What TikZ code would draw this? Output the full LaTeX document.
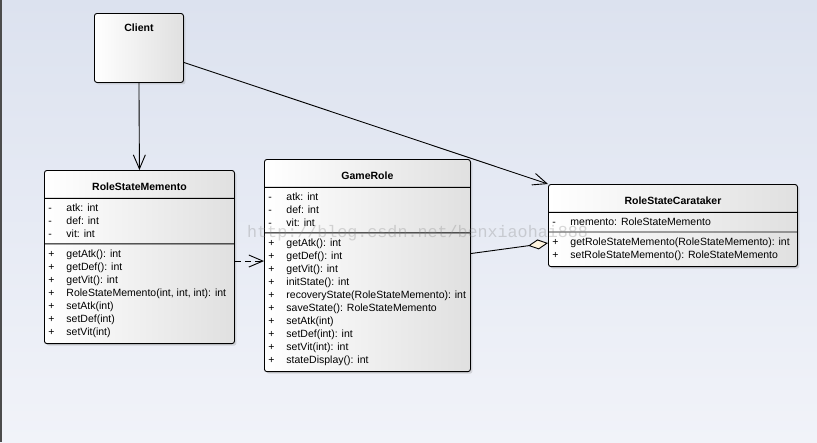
\documentclass[tikz,border=0pt]{standalone}
\usepackage{fontspec}
\setmainfont{Liberation Sans}
\newfontfamily\wmfont{Liberation Mono}
\usetikzlibrary{arrows.meta, positioning, shapes.multipart, shadows}
\definecolor{bgtop}{RGB}{220,226,239}
\definecolor{bgbottom}{RGB}{241,243,249}
\definecolor{classright}{RGB}{224,224,224}
\definecolor{diamondfill}{RGB}{253,243,222}
\newcommand{\vis}[1]{\makebox[18pt][l]{#1}}
\newcommand{\titlestrut}{\rule[-2pt]{0pt}{16pt}}
\tikzset{
    classbox/.style={
        rectangle, draw=black, line width=0.9pt, rounded corners=2.5pt,
        left color=white, right color=classright,
        drop shadow={shadow xshift=2pt, shadow yshift=-2pt, opacity=0.25},
        font=\fontsize{10.5}{13}\selectfont, inner xsep=4pt, inner ysep=5.5pt
    },
    umlclass/.style={
        classbox, rectangle split, rectangle split parts=3,
        rectangle split part align={center, left, left}, align=left,
        anchor=north west
    },
    classtitle/.style={font=\fontsize{10.5}{13}\selectfont\bfseries},
    assoc/.style={draw=black, line width=0.9pt, -{Straight Barb[length=14pt, width=12pt]}},
    depend/.style={assoc, dash pattern=on 6pt off 4pt},
    aggr/.style={draw=black, line width=0.9pt, -{Diamond[length=20pt, width=10pt, fill=diamondfill]}}
}

\begin{document}
\begin{tikzpicture}[x=1pt, y=1pt]

% Background
\useasboundingbox (0,0) rectangle (817,-442);
\shade[top color=bgtop, bottom color=bgbottom] (0,0) rectangle (817,-442);
\fill[black!70] (0,0) rectangle (2,-442);

% Classes
\node[classbox, minimum width=89pt, minimum height=69pt, anchor=north west] (client) at (94,-13) {};
\node[classtitle] (clientname) at ([yshift=-15pt]client.north) {Client};

\node[umlclass, minimum width=190pt] (memento) at (44,-170) {
    \titlestrut\textbf{RoleStateMemento}
    \nodepart{two}\vis{-}atk: int\\\vis{-}def: int\\\vis{-}vit: int
    \nodepart{three}\vis{+}getAtk(): int\\\vis{+}getDef(): int\\\vis{+}getVit(): int\\
    \vis{+}RoleStateMemento(int, int, int): int\\\vis{+}setAtk(int)\\\vis{+}setDef(int)\\\vis{+}setVit(int)
};

\node[umlclass, minimum width=206pt] (gamerole) at (264,-159) {
    \titlestrut\textbf{GameRole}
    \nodepart{two}\vis{-}atk: int\\\vis{-}def: int\\\vis{-}vit: int
    \nodepart{three}\vis{+}getAtk(): int\\\vis{+}getDef(): int\\\vis{+}getVit(): int\\
    \vis{+}initState(): int\\\vis{+}recoveryState(RoleStateMemento): int\\
    \vis{+}saveState(): RoleStateMemento\\\vis{+}setAtk(int)\\\vis{+}setDef(int): int\\
    \vis{+}setVit(int): int\\\vis{+}stateDisplay(): int
};

\node[umlclass, minimum width=249pt] (caretaker) at (548,-184) {
    \titlestrut\textbf{RoleStateCarataker}
    \nodepart{two}\vis{-}memento: RoleStateMemento
    \nodepart{three}\vis{+}getRoleStateMemento(RoleStateMemento): int\\
    \vis{+}setRoleStateMemento(): RoleStateMemento
};

% Relations
\draw[assoc] (client.south) -- (memento.north);
\draw[assoc] ([yshift=-14.5pt]client.east) -- (caretaker.north west);
\draw[depend] ([yshift=-4pt]memento.east) -- ([yshift=-4pt]memento.east -| gamerole.west);
\draw[aggr] ([yshift=12pt]gamerole.east) -- ([yshift=-17.5pt]caretaker.west);

% Watermark
\node[font=\wmfont\fontsize{16.7}{18}\selectfont, text=gray, opacity=0.3, anchor=base west, inner sep=0pt] (watermark) at (247,-237) {http://blog.csdn.net/benxiaohai888};

\end{tikzpicture}
\end{document}
